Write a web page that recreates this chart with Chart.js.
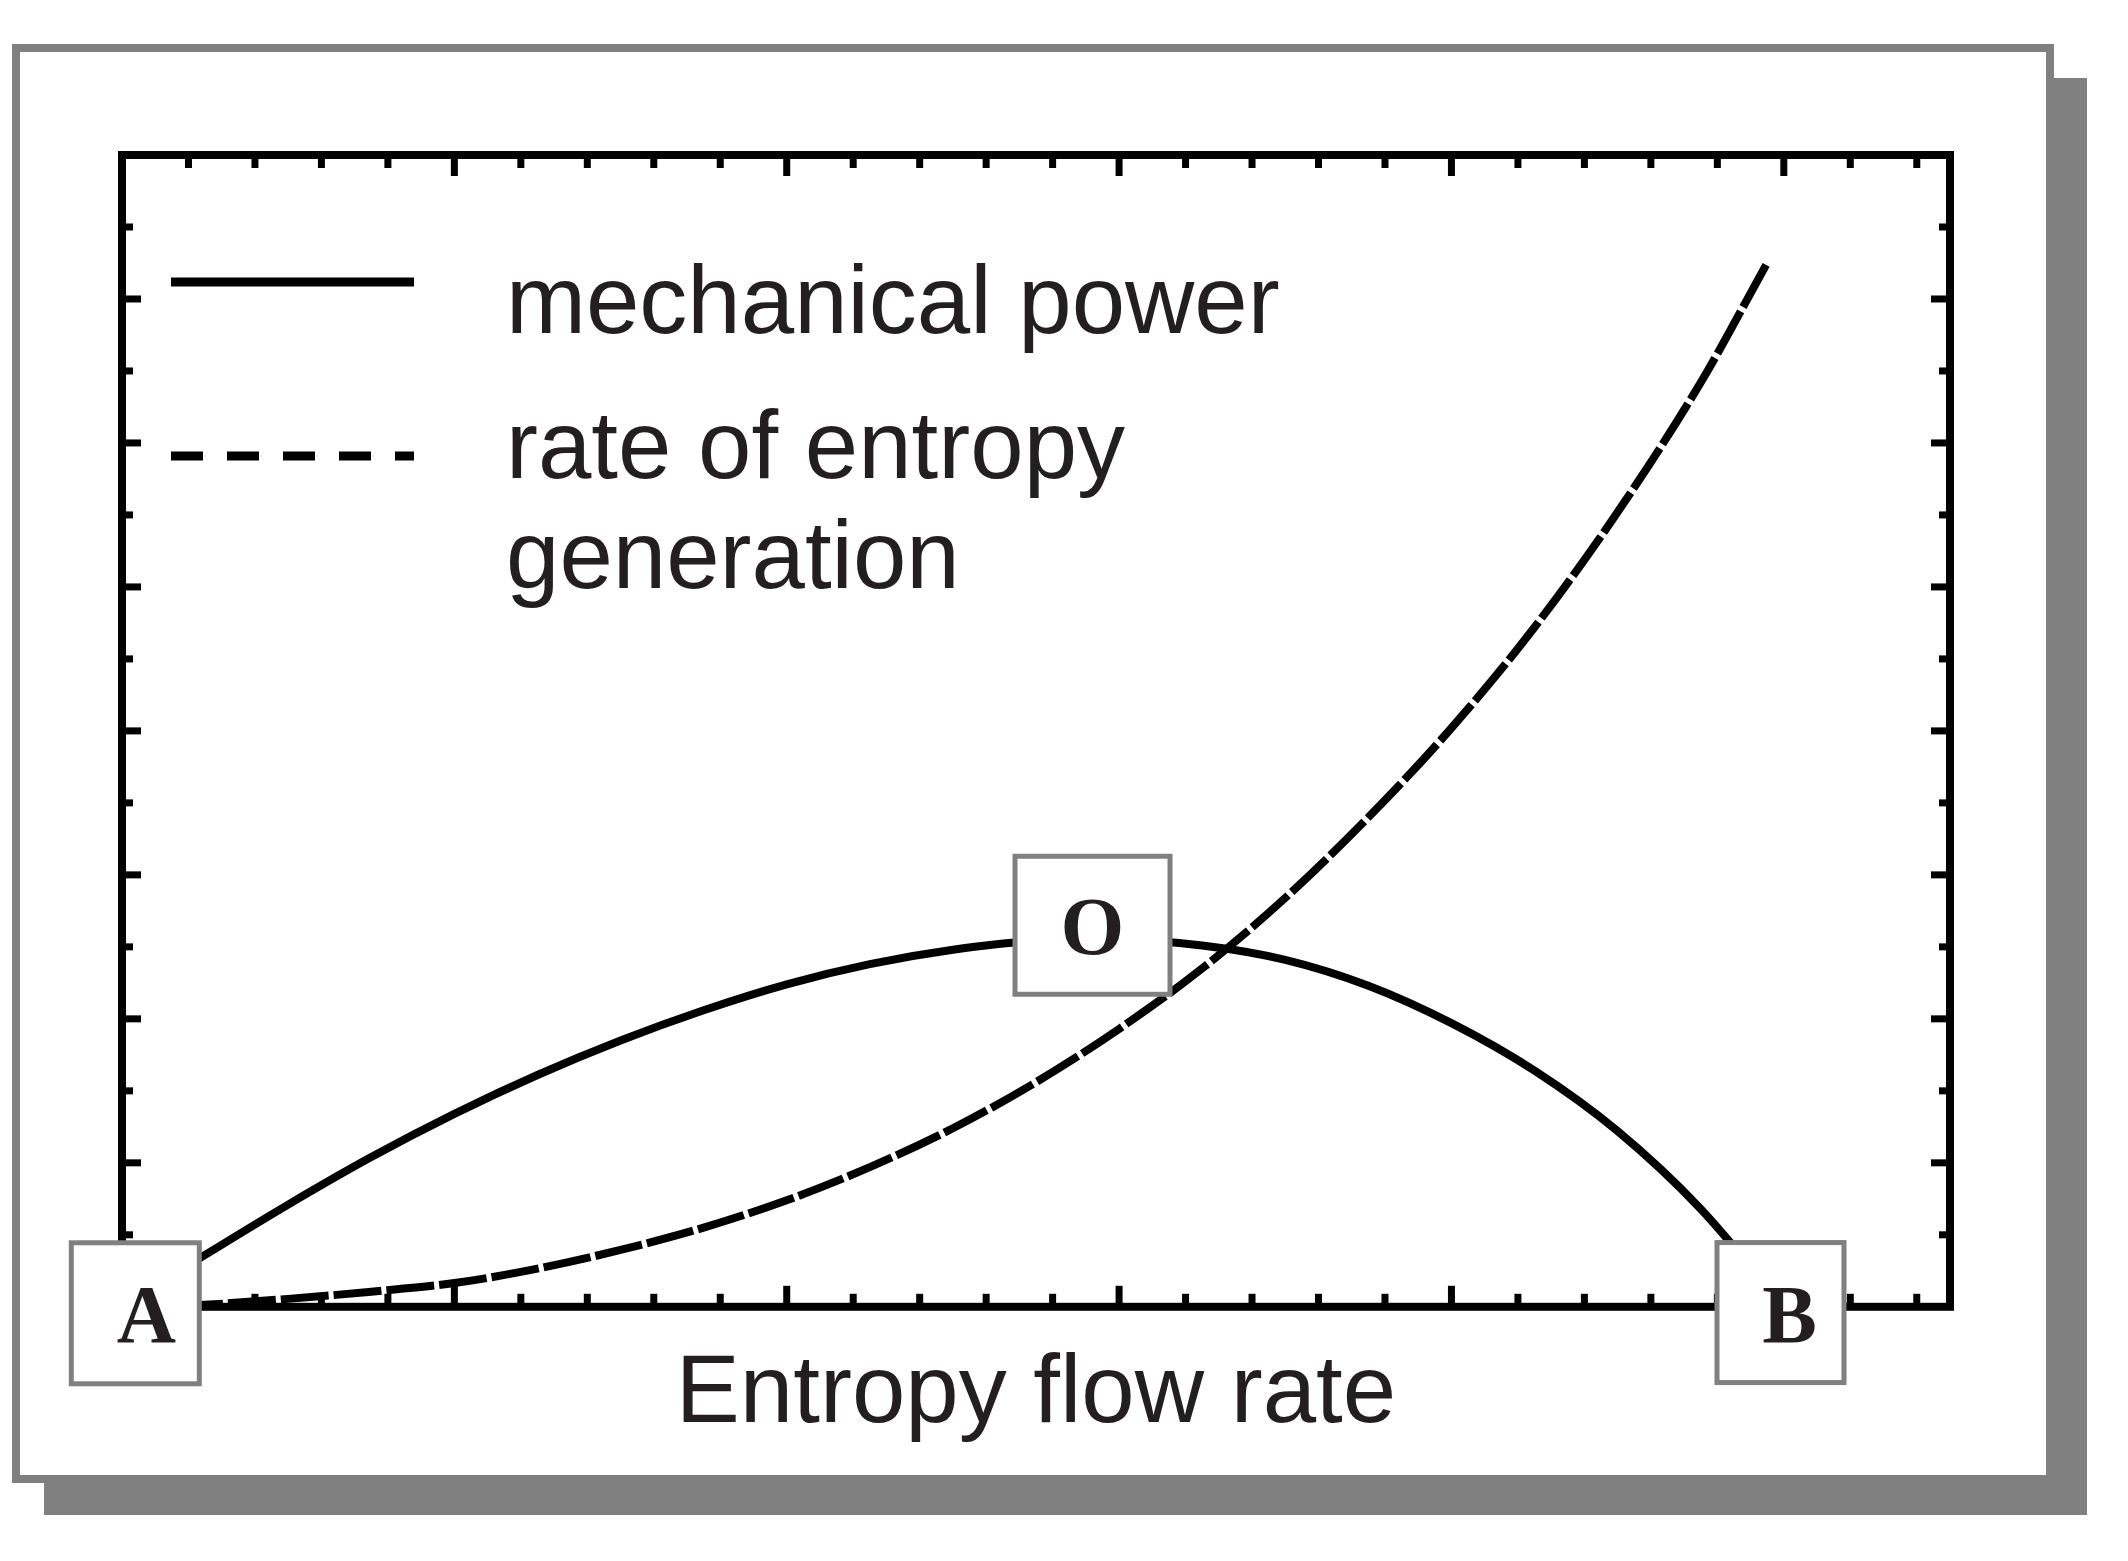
<!DOCTYPE html>
<html>
<head>
<meta charset="utf-8">
<title>Entropy flow rate</title>
<script src="https://cdn.jsdelivr.net/npm/chart.js@4.4.1/dist/chart.umd.min.js"></script>
<style>
	html, body { margin: 0; padding: 0; background: #fff; }
	canvas { display: block; }
</style>
</head>
<body>
<canvas id="chart" width="2128" height="1561" style="width:2128px;height:1561px"></canvas>
<script>
'use strict';

// values (x: entropy flow rate, y: arbitrary units)
const powerX = [0, 0.25, 0.5, 0.75, 1, 1.25, 1.5, 1.75, 2, 2.25, 2.5, 2.75, 3, 3.25, 3.5, 3.75, 4, 4.25, 4.5, 4.75, 5];
const powerY = [0, 0.36, 0.71, 1.04, 1.34, 1.61, 1.85, 2.06, 2.24, 2.38, 2.48, 2.54, 2.55, 2.51, 2.41, 2.23, 1.97, 1.64, 1.22, 0.68, 0];

const entropyX = [0, 0.25, 0.5, 0.75, 1, 1.25, 1.5, 1.75, 2, 2.25, 2.5, 2.75, 3, 3.25, 3.5, 3.75, 4, 4.25, 4.5, 4.75, 4.95];
const entropyY = [0, 0.015, 0.055, 0.105, 0.165, 0.265, 0.395, 0.55, 0.74, 0.97, 1.24, 1.56, 1.93, 2.35, 2.84, 3.40, 4.02, 4.72, 5.52, 6.42, 7.25];

const seriesNames = ['mechanical power', ['rate of entropy', 'generation']];
const axisTitle = 'Entropy flow rate';

const markerLabels = ['A', 'O', 'B'];
const markerX = [0.04, 2.92, 4.99];
const markerY = [-0.045, 2.65, -0.04];

const ink = '#231f20';
const grey = '#808080';

const toPoints = (xs, ys) => xs.map((x, i) => ({x: x, y: ys[i]}));

// page background, drop shadow and grey frame
const framePlugin = {
	id: 'frame',
	beforeDraw(chart) {
		const ctx = chart.ctx;
		ctx.save();
		ctx.fillStyle = '#fff';
		ctx.fillRect(0, 0, chart.width, chart.height);
		ctx.fillStyle = grey;
		ctx.fillRect(44, 78, 2043, 1437);
		ctx.fillStyle = '#fff';
		ctx.fillRect(12, 44, 2042, 1439);
		ctx.strokeStyle = grey;
		ctx.lineWidth = 8;
		ctx.strokeRect(16, 48, 2034, 1431);
		ctx.restore();
	}
};

// plot box with inward ticks on all four sides
const boxPlugin = {
	id: 'plotBox',
	afterDatasetsDraw(chart) {
		const {ctx, chartArea} = chart;
		const xs = chart.scales.x;
		const ys = chart.scales.y;
		const isMajor = v => Math.abs(v - Math.round(v)) < 1e-6;
		ctx.save();
		ctx.strokeStyle = '#000';
		ctx.fillStyle = '#000';
		ctx.lineWidth = 8;
		ctx.strokeRect(chartArea.left, chartArea.top, chartArea.right - chartArea.left, chartArea.bottom - chartArea.top);

		const tw = 7;
		xs.ticks.forEach(t => {
			if (t.value <= xs.min + 1e-6 || t.value >= xs.max - 1e-6) return;
			const px = xs.getPixelForValue(t.value);
			const len = isMajor(t.value) ? 21 : 13;
			ctx.fillRect(px - tw / 2, chartArea.bottom - len, tw, len);
			ctx.fillRect(px - tw / 2, chartArea.top, tw, len);
		});
		ys.ticks.forEach(t => {
			if (t.value <= ys.min + 1e-6 || t.value >= ys.max - 1e-6) return;
			const py = ys.getPixelForValue(t.value);
			const len = isMajor(t.value) ? 19 : 11;
			ctx.fillRect(chartArea.left, py - tw / 2, len, tw);
			ctx.fillRect(chartArea.right - len, py - tw / 2, len, tw);
		});
		ctx.restore();
	}
};

// legend in the upper left of the plot and the A / O / B boxes
const notesPlugin = {
	id: 'notes',
	afterDraw(chart, args, opts) {
		const {ctx, chartArea} = chart;
		ctx.save();

		ctx.font = opts.legendFont;
		ctx.fillStyle = ink;
		ctx.textAlign = 'left';
		ctx.textBaseline = 'alphabetic';
		chart.data.datasets.forEach((ds, i) => {
			const ly = chartArea.top + opts.lineY[i];
			ctx.beginPath();
			ctx.strokeStyle = '#000';
			ctx.lineWidth = 9;
			ctx.lineCap = 'butt';
			ctx.setLineDash(ds.borderDash && ds.borderDash.length ? [32, 24] : []);
			ctx.moveTo(chartArea.left + 49, ly);
			ctx.lineTo(chartArea.left + 292, ly);
			ctx.stroke();
			ctx.setLineDash([]);

			const lines = Array.isArray(ds.label) ? ds.label : [ds.label];
			lines.forEach((txt, j) => {
				ctx.fillText(txt, chartArea.left + 384, chartArea.top + opts.textY[i] + j * 110);
			});
		});

		const xs = chart.scales.x;
		const ys = chart.scales.y;
		markerLabels.forEach((lbl, i) => {
			const b = opts.boxes[lbl];
			const cx = xs.getPixelForValue(markerX[i]);
			const cy = ys.getPixelForValue(markerY[i]);
			ctx.fillStyle = '#fff';
			ctx.fillRect(cx - b.w / 2, cy - b.h / 2, b.w, b.h);
			ctx.strokeStyle = grey;
			ctx.lineWidth = 5;
			ctx.strokeRect(cx - b.w / 2, cy - b.h / 2, b.w, b.h);
			ctx.fillStyle = ink;
			ctx.font = 'bold 82px "Liberation Serif", "Times New Roman", serif';
			ctx.textAlign = 'center';
			ctx.fillText(lbl, cx + b.dx, cy + 29);
		});
		ctx.restore();
	}
};

const chart = new Chart(document.getElementById('chart'), {
	type: 'line',
	data: {
		datasets: [
			{
				label: seriesNames[0],
				data: toPoints(powerX, powerY),
				borderColor: '#000',
				borderWidth: 8,
				pointRadius: 0,
				cubicInterpolationMode: 'monotone',
				fill: false
			},
			{
				label: seriesNames[1],
				data: toPoints(entropyX, entropyY),
				borderColor: '#000',
				borderWidth: 8,
				borderDash: [48, 5],
				borderCapStyle: 'butt',
				pointRadius: 0,
				cubicInterpolationMode: 'monotone',
				fill: false
			}
		]
	},
	options: {
		responsive: false,
		animation: false,
		devicePixelRatio: 1,
		layout: {
			padding: {left: 122, top: 155, right: 178, bottom: 108}
		},
		scales: {
			x: {
				type: 'linear',
				min: 0,
				max: 5.5,
				ticks: {display: false, stepSize: 0.2},
				grid: {display: false, drawTicks: false},
				border: {display: false},
				title: {
					display: true,
					text: axisTitle,
					color: ink,
					font: {family: '"Liberation Sans", Arial, sans-serif', size: 96},
					padding: {top: 31, bottom: 0}
				}
			},
			y: {
				type: 'linear',
				min: 0,
				max: 8,
				ticks: {display: false, stepSize: 0.5},
				grid: {display: false, drawTicks: false},
				border: {display: false}
			}
		},
		plugins: {
			legend: {display: false},
			tooltip: {enabled: false},
			notes: {
				legendFont: '96px "Liberation Sans", Arial, sans-serif',
				lineY: [127, 301],
				textY: [178, 323],
				boxes: {
					A: {w: 128, h: 141, dx: 11},
					O: {w: 155, h: 138, dx: 0},
					B: {w: 127, h: 140, dx: 9}
				}
			}
		}
	},
	plugins: [framePlugin, boxPlugin, notesPlugin]
});
</script>
</body>
</html>
